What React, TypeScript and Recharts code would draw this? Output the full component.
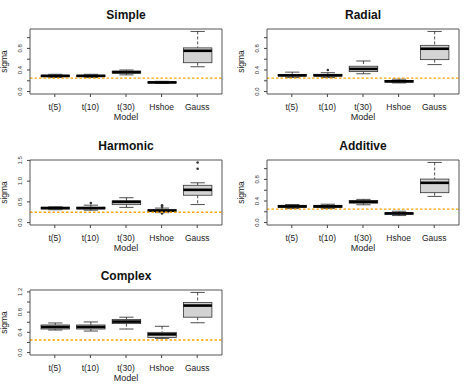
import React from 'react';
import { ComposedChart, Bar, XAxis, YAxis, ReferenceLine } from 'recharts';

const models = ['t(5)', 't(10)', 't(30)', 'Hshoe', 'Gauss'];

// [min, q1, median, q3, max] per model
const simpleStats = [
  [0.26, 0.275, 0.29, 0.305, 0.32],
  [0.26, 0.277, 0.29, 0.305, 0.32],
  [0.31, 0.34, 0.36, 0.38, 0.4],
  [0.15, 0.16, 0.17, 0.18, 0.19],
  [0.46, 0.535, 0.756, 0.81, 1.115],
];
const simpleOutliers = [[], [], [], [], []];

const radialStats = [
  [0.26, 0.29, 0.3, 0.315, 0.36],
  [0.26, 0.29, 0.3, 0.32, 0.35],
  [0.33, 0.37, 0.42, 0.47, 0.567],
  [0.16, 0.175, 0.19, 0.205, 0.23],
  [0.5, 0.592, 0.794, 0.857, 1.115],
];
const radialOutliers = [[], [0.4], [], [], []];

const harmonicStats = [
  [0.31, 0.33, 0.35, 0.37, 0.38],
  [0.3, 0.33, 0.35, 0.37, 0.42],
  [0.367, 0.433, 0.5, 0.525, 0.6],
  [0.24, 0.27, 0.29, 0.31, 0.35],
  [0.435, 0.66, 0.79, 0.9, 0.96],
];
const harmonicOutliers = [[], [0.47], [], [0.38, 0.42, 0.22], [1.3, 1.45]];

const additiveStats = [
  [0.26, 0.28, 0.3, 0.32, 0.335],
  [0.26, 0.28, 0.3, 0.32, 0.34],
  [0.33, 0.36, 0.385, 0.41, 0.43],
  [0.13, 0.155, 0.17, 0.18, 0.21],
  [0.485, 0.554, 0.737, 0.806, 1.115],
];
const additiveOutliers = [[], [], [], [], []];

const complexStats = [
  [0.446, 0.466, 0.506, 0.546, 0.586],
  [0.426, 0.466, 0.506, 0.546, 0.606],
  [0.466, 0.573, 0.613, 0.653, 0.7],
  [0.28, 0.3, 0.36, 0.4, 0.52],
  [0.59, 0.7, 0.93, 0.99, 1.19],
];
const complexOutliers = [[], [], [], [], []];

const domainSmall = [-0.045, 1.16];
const domainHarmonic = [-0.058, 1.51];
const domainComplex = [-0.048, 1.238];

const ticksSmall = [0, 0.2, 0.4, 0.6, 0.8, 1.0];
const labelsSmall = [0, 0.4, 0.8];
const ticksHarmonic = [0, 0.5, 1.0, 1.5];
const labelsHarmonic = [0, 0.5, 1.0, 1.5];
const ticksComplex = [0, 0.2, 0.4, 0.6, 0.8, 1.0, 1.2];
const labelsComplex = [0, 0.4, 0.8, 1.2];

const trueSigma = 0.25;

const FONT = '"Liberation Sans", Arial, Helvetica, sans-serif';
const W = 237;
const H = 131;
const LEFT = 30;
const RIGHT = 15;
const TOP = 29;
const BOTTOM = 37;

const BoxShape = (props: any) => {
  const { x, y, width, height, payload } = props;
  if (!payload || width == null) return null;
  const { lo, hi, mn, q1, md, q3, mx, out } = payload;
  const top = Math.min(y, y + height);
  const h = Math.abs(height);
  const py = (v: number) => top + ((hi - v) / (hi - lo)) * h;
  const cx = x + width / 2;
  const cap = width / 4;
  return (
    <g>
      <line x1={cx} x2={cx} y1={py(mx)} y2={py(q3)} stroke="#222" strokeWidth={0.8} strokeDasharray="3 2" />
      <line x1={cx} x2={cx} y1={py(q1)} y2={py(mn)} stroke="#222" strokeWidth={0.8} strokeDasharray="3 2" />
      <line x1={cx - cap} x2={cx + cap} y1={py(mx)} y2={py(mx)} stroke="#222" strokeWidth={0.8} />
      <line x1={cx - cap} x2={cx + cap} y1={py(mn)} y2={py(mn)} stroke="#222" strokeWidth={0.8} />
      <rect x={x} y={py(q3)} width={width} height={Math.max(0.5, py(q1) - py(q3))} fill="#d3d3d3" stroke="#333" strokeWidth={0.8} />
      <line x1={x} x2={x + width} y1={py(md)} y2={py(md)} stroke="#000" strokeWidth={2.6} />
      {out.map((o: number, i: number) => (
        <circle key={i} cx={cx} cy={py(o)} r={1.3} fill="#333" />
      ))}
    </g>
  );
};

function makeYTick(labeled: number[]) {
  return (props: any) => {
    const { x, y, payload } = props;
    const v = payload.value;
    if (!labeled.some((l) => Math.abs(l - v) < 1e-9)) return <g />;
    const bx = x - 3;
    return (
      <text
        x={bx}
        y={y}
        textAnchor="middle"
        fontSize={6}
        fill="#333"
        fontFamily={FONT}
        transform={`rotate(-90, ${bx}, ${y})`}
      >
        {v.toFixed(1)}
      </text>
    );
  };
}

const XTick = (props: any) => {
  const { x, y, payload } = props;
  return (
    <text x={x} y={y + 10.5} textAnchor="middle" fontSize={8.5} fill="#222" fontFamily={FONT}>
      {payload.value}
    </text>
  );
};

function Panel({ title, stats, outliers, domain, ticks, labeled, left, top }: any) {
  const rows = models.map((m, i) => {
    const [mn, q1, md, q3, mx] = stats[i];
    const all = [mn, mx, ...outliers[i]];
    return { model: m, mn, q1, md, q3, mx, out: outliers[i], lo: Math.min(...all), hi: Math.max(...all) };
  });
  const plotW = W - LEFT - RIGHT;
  const cxTitle = LEFT + plotW / 2;
  const plotMidY = TOP + (H - TOP - BOTTOM) / 2;
  return (
    <div style={{ position: 'absolute', left, top, width: W, height: H }}>
      <ComposedChart width={W} height={H} data={rows} margin={{ top: 0, right: 0, bottom: 0, left: 0 }}>
        <XAxis
          xAxisId="b"
          dataKey="model"
          orientation="bottom"
          height={BOTTOM}
          padding={{ left: 7, right: 7 }}
          interval={0}
          tickSize={3}
          tickMargin={2}
          tick={XTick}
          axisLine={{ stroke: '#555' }}
          tickLine={{ stroke: '#444' }}
          label={{
            content: () => (
              <text x={cxTitle} y={120} textAnchor="middle" fontSize={9} fill="#222" fontFamily={FONT}>
                Model
              </text>
            ),
          }}
        />
        <XAxis
          xAxisId="t"
          dataKey="model"
          orientation="top"
          height={TOP}
          tick={false}
          tickLine={false}
          axisLine={{ stroke: '#555' }}
          label={{
            content: () => (
              <text x={cxTitle} y={19.3} textAnchor="middle" fontSize={12} fontWeight="bold" fill="#111" fontFamily={FONT}>
                {title}
              </text>
            ),
          }}
        />
        <YAxis
          yAxisId="l"
          type="number"
          domain={domain}
          allowDataOverflow
          ticks={ticks}
          interval={0}
          width={LEFT}
          tickSize={3}
          tickMargin={2}
          tick={makeYTick(labeled)}
          axisLine={{ stroke: '#555' }}
          tickLine={{ stroke: '#444' }}
          label={{
            content: () => (
              <text
                x={6.5}
                y={plotMidY}
                textAnchor="middle"
                fontSize={8.5}
                fill="#222"
                fontFamily={FONT}
                transform={`rotate(-90, 6.5, ${plotMidY})`}
              >
                sigma
              </text>
            ),
          }}
        />
        <YAxis
          yAxisId="r"
          orientation="right"
          type="number"
          domain={domain}
          allowDataOverflow
          width={RIGHT}
          tick={false}
          tickLine={false}
          axisLine={{ stroke: '#555' }}
        />
        <Bar
          xAxisId="b"
          yAxisId="l"
          dataKey={(d: any) => [d.lo, d.hi]}
          barSize={28.5}
          shape={BoxShape}
          isAnimationActive={false}
        />
        <ReferenceLine
          xAxisId="b"
          yAxisId="l"
          y={trueSigma}
          stroke="#FFA500"
          strokeWidth={1.4}
          strokeDasharray="2.5 2"
        />
      </ComposedChart>
    </div>
  );
}

export default function App() {
  return (
    <div style={{ position: 'absolute', left: 0, top: 0, width: 474, height: 392, background: '#fff' }}>
      <Panel title="Simple" stats={simpleStats} outliers={simpleOutliers} domain={domainSmall} ticks={ticksSmall} labeled={labelsSmall} left={0} top={0} />
      <Panel title="Radial" stats={radialStats} outliers={radialOutliers} domain={domainSmall} ticks={ticksSmall} labeled={labelsSmall} left={237} top={0} />
      <Panel title="Harmonic" stats={harmonicStats} outliers={harmonicOutliers} domain={domainHarmonic} ticks={ticksHarmonic} labeled={labelsHarmonic} left={0} top={131} />
      <Panel title="Additive" stats={additiveStats} outliers={additiveOutliers} domain={domainSmall} ticks={ticksSmall} labeled={labelsSmall} left={237} top={131} />
      <Panel title="Complex" stats={complexStats} outliers={complexOutliers} domain={domainComplex} ticks={ticksComplex} labeled={labelsComplex} left={0} top={261} />
    </div>
  );
}
